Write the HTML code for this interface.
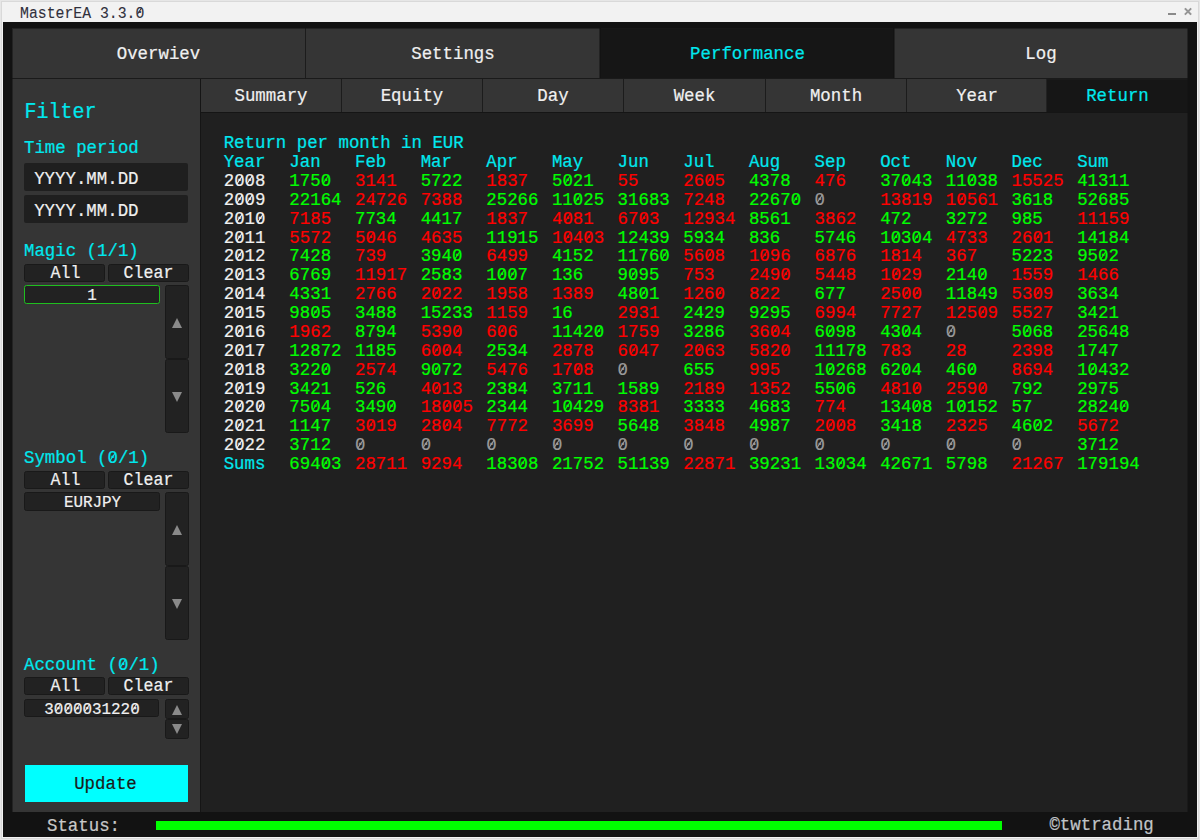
<!DOCTYPE html>
<html><head><meta charset="utf-8">
<style>
*{margin:0;padding:0;box-sizing:border-box}
html,body{width:1200px;height:840px;overflow:hidden;background:#f2f2f2;position:relative;font-family:"Liberation Mono"}
.a{position:absolute}
.t{position:absolute;font-family:"Liberation Mono";font-size:17.4px;line-height:20px;white-space:pre;transform:scaleY(1.09);transform-origin:0 0;-webkit-text-stroke:0.2px currentColor}
.ctr{text-align:center}
.sm{font-size:16.6px}
.xs{font-size:15.9px;transform:scaleY(1.06)}
.c{color:#00e8ee}
.w{color:#f0f0f0}
.g{color:#00ff00}
.r{color:#ff0000}
.z{color:#9a9a9a}
.tb{position:absolute;background:#353535}
.bt{position:absolute;background:#222;border:1px solid #191919;border-radius:2.5px}
.zr{position:relative;display:inline-block}
.zr::after{content:"";position:absolute;left:0.262em;top:0.235em;width:0.072em;height:0.5em;background:currentColor;transform:rotate(36deg)}
.tri{position:absolute;width:0;height:0;border-left:5.5px solid transparent;border-right:5.5px solid transparent}
</style></head><body>
<!-- window border -->
<div class="a" style="left:0;top:0;width:1200px;height:840px;border:1px solid #e6e6e6"></div>
<div class="a" style="left:1px;top:1px;width:1198px;height:838px;border:1px solid #d9d9d9"></div>
<div class="t" style="left:20px;top:4.2px;font-size:14.8px;line-height:18px;color:#30303c;transform:scaleY(1.06);-webkit-text-stroke:0.1px currentColor">MasterEA 3.3.<span class="zr">0</span></div>
<div class="a" style="left:1168px;top:13px;width:8px;height:2px;background:#8a8a8a"></div>
<svg class="a" style="left:1180px;top:3px" width="16" height="16"><path d="M5.5 6L10.5 11M10.5 6L5.5 11" stroke="#959595" stroke-width="1.9" stroke-linecap="square"/></svg>
<!-- frame -->
<div class="a" style="left:3px;top:22px;width:1194px;height:814.5px;background:#121212"></div>
<!-- main tabs -->
<div class="tb" style="left:12px;top:28px;width:293px;height:50px"></div>
<div class="a" style="left:305px;top:28px;width:1px;height:50px;background:#1c1c1c"></div>
<div class="tb" style="left:306px;top:28px;width:293px;height:50px"></div>
<div class="a" style="left:599px;top:28px;width:1px;height:50px;background:#232323"></div>
<div class="a" style="left:600px;top:28px;width:1px;height:50px;background:#131313"></div>
<div class="tb" style="left:601px;top:28px;width:292px;height:50px;background:#161616;border-top:1px solid #1e1e1e"></div>
<div class="a" style="left:893px;top:28px;width:1px;height:50px;background:#131313"></div>
<div class="a" style="left:894px;top:28px;width:1px;height:50px;background:#232323"></div>
<div class="tb" style="left:895px;top:28px;width:293px;height:50px"></div>
<div class="a" style="left:12px;top:78px;width:1176px;height:1px;background:#1a1a1a"></div>
<div class="t w ctr" style="left:12px;top:44.4px;width:293px">Overwiev</div>
<div class="t w ctr" style="left:306px;top:44.4px;width:294px">Settings</div>
<div class="t c ctr" style="left:601px;top:44.4px;width:293px">Performance</div>
<div class="t w ctr" style="left:894px;top:44.4px;width:294px">Log</div>
<!-- left panel -->
<div class="a" style="left:12px;top:79px;width:188px;height:733px;background:#353535"></div>
<div class="a" style="left:200px;top:79px;width:1px;height:733px;background:#151515"></div>
<!-- sub tabs -->
<div class="tb" style="left:201px;top:79px;width:140px;height:33px"></div>
<div class="a" style="left:341px;top:79px;width:1px;height:33px;background:#1c1c1c"></div>
<div class="tb" style="left:342px;top:79px;width:140px;height:33px"></div>
<div class="a" style="left:482px;top:79px;width:1px;height:33px;background:#1c1c1c"></div>
<div class="tb" style="left:483px;top:79px;width:140px;height:33px"></div>
<div class="a" style="left:623px;top:79px;width:1px;height:33px;background:#1c1c1c"></div>
<div class="tb" style="left:624px;top:79px;width:141px;height:33px"></div>
<div class="a" style="left:765px;top:79px;width:1px;height:33px;background:#1c1c1c"></div>
<div class="tb" style="left:766px;top:79px;width:140px;height:33px"></div>
<div class="a" style="left:906px;top:79px;width:1px;height:33px;background:#1c1c1c"></div>
<div class="tb" style="left:907px;top:79px;width:139px;height:33px"></div>
<div class="a" style="left:1046px;top:79px;width:1px;height:33px;background:#222"></div>
<div class="tb" style="left:1047px;top:79px;width:141px;height:33px;background:#161616;border-top:1px solid #1a1a1a"></div>
<div class="a" style="left:201px;top:112px;width:987px;height:1px;background:#151515"></div>
<div class="t w ctr" style="left:201px;top:86.3px;width:140px">Summary</div>
<div class="t w ctr" style="left:342px;top:86.3px;width:140px">Equity</div>
<div class="t w ctr" style="left:483px;top:86.3px;width:140px">Day</div>
<div class="t w ctr" style="left:624px;top:86.3px;width:141px">Week</div>
<div class="t w ctr" style="left:766px;top:86.3px;width:140px">Month</div>
<div class="t w ctr" style="left:907px;top:86.3px;width:140px">Year</div>
<div class="t c ctr" style="left:1047px;top:86.3px;width:141px">Return</div>
<!-- content -->
<div class="a" style="left:201px;top:113px;width:987px;height:699px;background:#202020"></div>

<!-- filter panel -->
<div class="t c" style="left:24.5px;top:102px;font-size:20px;line-height:20px;transform:scaleY(1.08)">Filter</div>
<div class="t c" style="left:24px;top:138px">Time period</div>
<div class="a" style="left:24px;top:163px;width:164px;height:28px;background:#1f1f1f;border-radius:2px"></div>
<div class="a" style="left:24px;top:195px;width:164px;height:28px;background:#1f1f1f;border-radius:2px"></div>
<div class="t w" style="left:34.2px;top:168.6px">YYYY.MM.DD</div>
<div class="t w" style="left:34.2px;top:200.6px">YYYY.MM.DD</div>

<div class="t c" style="left:24px;top:241px">Magic (1/1)</div>
<div class="bt" style="left:24px;top:264px;width:81px;height:18px"></div>
<div class="bt" style="left:108px;top:264px;width:81px;height:18px"></div>
<div class="bt" style="left:24px;top:285px;width:136px;height:19px;border:1px solid #1fbf1f"></div>
<div class="bt" style="left:165px;top:285px;width:24px;height:74px"></div>
<div class="bt" style="left:165px;top:359px;width:24px;height:74px"></div>
<div class="tri" style="left:171.5px;top:318px;border-bottom:10.5px solid #8a8a8a"></div>
<div class="tri" style="left:171.5px;top:391.5px;border-top:10.5px solid #8a8a8a"></div>
<div class="t w ctr sm" style="left:25px;top:263px;width:81px">All</div>
<div class="t w ctr sm" style="left:108px;top:263px;width:81px">Clear</div>
<div class="t w ctr xs" style="left:24px;top:284.5px;width:136px">1</div>

<div class="t c" style="left:24px;top:448px">Symbol (<span class="zr">0</span>/1)</div>
<div class="bt" style="left:24px;top:471px;width:81px;height:18px"></div>
<div class="bt" style="left:108px;top:471px;width:81px;height:18px"></div>
<div class="bt" style="left:24px;top:492px;width:136px;height:19px"></div>
<div class="bt" style="left:165px;top:492px;width:24px;height:74px"></div>
<div class="bt" style="left:165px;top:566px;width:24px;height:74px"></div>
<div class="tri" style="left:171.5px;top:525px;border-bottom:10.5px solid #8a8a8a"></div>
<div class="tri" style="left:171.5px;top:598.5px;border-top:10.5px solid #8a8a8a"></div>
<div class="t w ctr sm" style="left:25px;top:470px;width:81px">All</div>
<div class="t w ctr sm" style="left:108px;top:470px;width:81px">Clear</div>
<div class="t w ctr xs" style="left:24.5px;top:491.5px;width:136px">EURJPY</div>

<div class="t c" style="left:24px;top:654.5px">Account (<span class="zr">0</span>/1)</div>
<div class="bt" style="left:24px;top:677px;width:81px;height:18px"></div>
<div class="bt" style="left:108px;top:677px;width:81px;height:18px"></div>
<div class="bt" style="left:24px;top:699px;width:135px;height:18px"></div>
<div class="bt" style="left:165px;top:699px;width:24px;height:20px"></div>
<div class="bt" style="left:165px;top:719px;width:24px;height:20px"></div>
<div class="tri" style="left:171.5px;top:704.5px;border-bottom:10.5px solid #8a8a8a"></div>
<div class="tri" style="left:171.5px;top:724px;border-top:10.5px solid #8a8a8a"></div>
<div class="t w ctr sm" style="left:25px;top:676px;width:81px">All</div>
<div class="t w ctr sm" style="left:108px;top:676px;width:81px">Clear</div>
<div class="t w ctr xs" style="left:24.5px;top:698.5px;width:135px">3<span class="zr">0</span><span class="zr">0</span><span class="zr">0</span><span class="zr">0</span>3122<span class="zr">0</span></div>

<div class="a" style="left:25px;top:765px;width:162.5px;height:36.7px;background:#00ffff"></div>
<div class="t ctr" style="left:24px;top:774px;width:163px;color:#1a1a1a">Update</div>

<!-- status bar -->
<div class="t" style="left:47px;top:816px;color:#c8c8c8">Status:</div>
<div class="a" style="left:156px;top:820.5px;width:845.6px;height:9.1px;background:#00ff00"></div>
<div class="t" style="left:1049.4px;top:815px;color:#c0c4c8">&#169;twtrading</div>

<div class="t c" style="left:223.70px;top:133.40px">Return per month in EUR</div>
<div class="t c" style="left:223.70px;top:152.10px">Year</div>
<div class="t c" style="left:289.35px;top:152.10px">Jan</div>
<div class="t c" style="left:355.00px;top:152.10px">Feb</div>
<div class="t c" style="left:420.65px;top:152.10px">Mar</div>
<div class="t c" style="left:486.30px;top:152.10px">Apr</div>
<div class="t c" style="left:551.95px;top:152.10px">May</div>
<div class="t c" style="left:617.60px;top:152.10px">Jun</div>
<div class="t c" style="left:683.25px;top:152.10px">Jul</div>
<div class="t c" style="left:748.90px;top:152.10px">Aug</div>
<div class="t c" style="left:814.55px;top:152.10px">Sep</div>
<div class="t c" style="left:880.20px;top:152.10px">Oct</div>
<div class="t c" style="left:945.85px;top:152.10px">Nov</div>
<div class="t c" style="left:1011.50px;top:152.10px">Dec</div>
<div class="t c" style="left:1077.15px;top:152.10px">Sum</div>
<div class="t w" style="left:223.70px;top:170.97px">2<span class="zr">0</span><span class="zr">0</span>8</div>
<div class="t g" style="left:289.35px;top:170.97px">175<span class="zr">0</span></div>
<div class="t r" style="left:355.00px;top:170.97px">3141</div>
<div class="t g" style="left:420.65px;top:170.97px">5722</div>
<div class="t r" style="left:486.30px;top:170.97px">1837</div>
<div class="t g" style="left:551.95px;top:170.97px">5<span class="zr">0</span>21</div>
<div class="t r" style="left:617.60px;top:170.97px">55</div>
<div class="t r" style="left:683.25px;top:170.97px">26<span class="zr">0</span>5</div>
<div class="t g" style="left:748.90px;top:170.97px">4378</div>
<div class="t r" style="left:814.55px;top:170.97px">476</div>
<div class="t g" style="left:880.20px;top:170.97px">37<span class="zr">0</span>43</div>
<div class="t g" style="left:945.85px;top:170.97px">11<span class="zr">0</span>38</div>
<div class="t r" style="left:1011.50px;top:170.97px">15525</div>
<div class="t g" style="left:1077.15px;top:170.97px">41311</div>
<div class="t w" style="left:223.70px;top:189.83px">2<span class="zr">0</span><span class="zr">0</span>9</div>
<div class="t g" style="left:289.35px;top:189.83px">22164</div>
<div class="t r" style="left:355.00px;top:189.83px">24726</div>
<div class="t r" style="left:420.65px;top:189.83px">7388</div>
<div class="t g" style="left:486.30px;top:189.83px">25266</div>
<div class="t g" style="left:551.95px;top:189.83px">11<span class="zr">0</span>25</div>
<div class="t g" style="left:617.60px;top:189.83px">31683</div>
<div class="t r" style="left:683.25px;top:189.83px">7248</div>
<div class="t g" style="left:748.90px;top:189.83px">2267<span class="zr">0</span></div>
<div class="t z" style="left:814.55px;top:189.83px"><span class="zr">0</span></div>
<div class="t r" style="left:880.20px;top:189.83px">13819</div>
<div class="t r" style="left:945.85px;top:189.83px">1<span class="zr">0</span>561</div>
<div class="t g" style="left:1011.50px;top:189.83px">3618</div>
<div class="t g" style="left:1077.15px;top:189.83px">52685</div>
<div class="t w" style="left:223.70px;top:208.70px">2<span class="zr">0</span>1<span class="zr">0</span></div>
<div class="t r" style="left:289.35px;top:208.70px">7185</div>
<div class="t g" style="left:355.00px;top:208.70px">7734</div>
<div class="t g" style="left:420.65px;top:208.70px">4417</div>
<div class="t r" style="left:486.30px;top:208.70px">1837</div>
<div class="t r" style="left:551.95px;top:208.70px">4<span class="zr">0</span>81</div>
<div class="t r" style="left:617.60px;top:208.70px">67<span class="zr">0</span>3</div>
<div class="t r" style="left:683.25px;top:208.70px">12934</div>
<div class="t g" style="left:748.90px;top:208.70px">8561</div>
<div class="t r" style="left:814.55px;top:208.70px">3862</div>
<div class="t g" style="left:880.20px;top:208.70px">472</div>
<div class="t g" style="left:945.85px;top:208.70px">3272</div>
<div class="t g" style="left:1011.50px;top:208.70px">985</div>
<div class="t r" style="left:1077.15px;top:208.70px">11159</div>
<div class="t w" style="left:223.70px;top:227.57px">2<span class="zr">0</span>11</div>
<div class="t r" style="left:289.35px;top:227.57px">5572</div>
<div class="t r" style="left:355.00px;top:227.57px">5<span class="zr">0</span>46</div>
<div class="t r" style="left:420.65px;top:227.57px">4635</div>
<div class="t g" style="left:486.30px;top:227.57px">11915</div>
<div class="t r" style="left:551.95px;top:227.57px">1<span class="zr">0</span>4<span class="zr">0</span>3</div>
<div class="t g" style="left:617.60px;top:227.57px">12439</div>
<div class="t g" style="left:683.25px;top:227.57px">5934</div>
<div class="t g" style="left:748.90px;top:227.57px">836</div>
<div class="t g" style="left:814.55px;top:227.57px">5746</div>
<div class="t g" style="left:880.20px;top:227.57px">1<span class="zr">0</span>3<span class="zr">0</span>4</div>
<div class="t r" style="left:945.85px;top:227.57px">4733</div>
<div class="t r" style="left:1011.50px;top:227.57px">26<span class="zr">0</span>1</div>
<div class="t g" style="left:1077.15px;top:227.57px">14184</div>
<div class="t w" style="left:223.70px;top:246.44px">2<span class="zr">0</span>12</div>
<div class="t g" style="left:289.35px;top:246.44px">7428</div>
<div class="t r" style="left:355.00px;top:246.44px">739</div>
<div class="t g" style="left:420.65px;top:246.44px">394<span class="zr">0</span></div>
<div class="t r" style="left:486.30px;top:246.44px">6499</div>
<div class="t g" style="left:551.95px;top:246.44px">4152</div>
<div class="t g" style="left:617.60px;top:246.44px">1176<span class="zr">0</span></div>
<div class="t r" style="left:683.25px;top:246.44px">56<span class="zr">0</span>8</div>
<div class="t r" style="left:748.90px;top:246.44px">1<span class="zr">0</span>96</div>
<div class="t r" style="left:814.55px;top:246.44px">6876</div>
<div class="t r" style="left:880.20px;top:246.44px">1814</div>
<div class="t r" style="left:945.85px;top:246.44px">367</div>
<div class="t g" style="left:1011.50px;top:246.44px">5223</div>
<div class="t g" style="left:1077.15px;top:246.44px">95<span class="zr">0</span>2</div>
<div class="t w" style="left:223.70px;top:265.30px">2<span class="zr">0</span>13</div>
<div class="t g" style="left:289.35px;top:265.30px">6769</div>
<div class="t r" style="left:355.00px;top:265.30px">11917</div>
<div class="t g" style="left:420.65px;top:265.30px">2583</div>
<div class="t g" style="left:486.30px;top:265.30px">1<span class="zr">0</span><span class="zr">0</span>7</div>
<div class="t g" style="left:551.95px;top:265.30px">136</div>
<div class="t g" style="left:617.60px;top:265.30px">9<span class="zr">0</span>95</div>
<div class="t r" style="left:683.25px;top:265.30px">753</div>
<div class="t r" style="left:748.90px;top:265.30px">249<span class="zr">0</span></div>
<div class="t r" style="left:814.55px;top:265.30px">5448</div>
<div class="t r" style="left:880.20px;top:265.30px">1<span class="zr">0</span>29</div>
<div class="t g" style="left:945.85px;top:265.30px">214<span class="zr">0</span></div>
<div class="t r" style="left:1011.50px;top:265.30px">1559</div>
<div class="t r" style="left:1077.15px;top:265.30px">1466</div>
<div class="t w" style="left:223.70px;top:284.17px">2<span class="zr">0</span>14</div>
<div class="t g" style="left:289.35px;top:284.17px">4331</div>
<div class="t r" style="left:355.00px;top:284.17px">2766</div>
<div class="t r" style="left:420.65px;top:284.17px">2<span class="zr">0</span>22</div>
<div class="t r" style="left:486.30px;top:284.17px">1958</div>
<div class="t r" style="left:551.95px;top:284.17px">1389</div>
<div class="t g" style="left:617.60px;top:284.17px">48<span class="zr">0</span>1</div>
<div class="t r" style="left:683.25px;top:284.17px">126<span class="zr">0</span></div>
<div class="t r" style="left:748.90px;top:284.17px">822</div>
<div class="t g" style="left:814.55px;top:284.17px">677</div>
<div class="t r" style="left:880.20px;top:284.17px">25<span class="zr">0</span><span class="zr">0</span></div>
<div class="t g" style="left:945.85px;top:284.17px">11849</div>
<div class="t r" style="left:1011.50px;top:284.17px">53<span class="zr">0</span>9</div>
<div class="t g" style="left:1077.15px;top:284.17px">3634</div>
<div class="t w" style="left:223.70px;top:303.04px">2<span class="zr">0</span>15</div>
<div class="t g" style="left:289.35px;top:303.04px">98<span class="zr">0</span>5</div>
<div class="t g" style="left:355.00px;top:303.04px">3488</div>
<div class="t g" style="left:420.65px;top:303.04px">15233</div>
<div class="t r" style="left:486.30px;top:303.04px">1159</div>
<div class="t g" style="left:551.95px;top:303.04px">16</div>
<div class="t r" style="left:617.60px;top:303.04px">2931</div>
<div class="t g" style="left:683.25px;top:303.04px">2429</div>
<div class="t g" style="left:748.90px;top:303.04px">9295</div>
<div class="t r" style="left:814.55px;top:303.04px">6994</div>
<div class="t r" style="left:880.20px;top:303.04px">7727</div>
<div class="t r" style="left:945.85px;top:303.04px">125<span class="zr">0</span>9</div>
<div class="t r" style="left:1011.50px;top:303.04px">5527</div>
<div class="t g" style="left:1077.15px;top:303.04px">3421</div>
<div class="t w" style="left:223.70px;top:321.90px">2<span class="zr">0</span>16</div>
<div class="t r" style="left:289.35px;top:321.90px">1962</div>
<div class="t g" style="left:355.00px;top:321.90px">8794</div>
<div class="t r" style="left:420.65px;top:321.90px">539<span class="zr">0</span></div>
<div class="t r" style="left:486.30px;top:321.90px">6<span class="zr">0</span>6</div>
<div class="t g" style="left:551.95px;top:321.90px">1142<span class="zr">0</span></div>
<div class="t r" style="left:617.60px;top:321.90px">1759</div>
<div class="t g" style="left:683.25px;top:321.90px">3286</div>
<div class="t r" style="left:748.90px;top:321.90px">36<span class="zr">0</span>4</div>
<div class="t g" style="left:814.55px;top:321.90px">6<span class="zr">0</span>98</div>
<div class="t g" style="left:880.20px;top:321.90px">43<span class="zr">0</span>4</div>
<div class="t z" style="left:945.85px;top:321.90px"><span class="zr">0</span></div>
<div class="t g" style="left:1011.50px;top:321.90px">5<span class="zr">0</span>68</div>
<div class="t g" style="left:1077.15px;top:321.90px">25648</div>
<div class="t w" style="left:223.70px;top:340.77px">2<span class="zr">0</span>17</div>
<div class="t g" style="left:289.35px;top:340.77px">12872</div>
<div class="t g" style="left:355.00px;top:340.77px">1185</div>
<div class="t r" style="left:420.65px;top:340.77px">6<span class="zr">0</span><span class="zr">0</span>4</div>
<div class="t g" style="left:486.30px;top:340.77px">2534</div>
<div class="t r" style="left:551.95px;top:340.77px">2878</div>
<div class="t r" style="left:617.60px;top:340.77px">6<span class="zr">0</span>47</div>
<div class="t r" style="left:683.25px;top:340.77px">2<span class="zr">0</span>63</div>
<div class="t r" style="left:748.90px;top:340.77px">582<span class="zr">0</span></div>
<div class="t g" style="left:814.55px;top:340.77px">11178</div>
<div class="t r" style="left:880.20px;top:340.77px">783</div>
<div class="t r" style="left:945.85px;top:340.77px">28</div>
<div class="t r" style="left:1011.50px;top:340.77px">2398</div>
<div class="t g" style="left:1077.15px;top:340.77px">1747</div>
<div class="t w" style="left:223.70px;top:359.64px">2<span class="zr">0</span>18</div>
<div class="t g" style="left:289.35px;top:359.64px">322<span class="zr">0</span></div>
<div class="t r" style="left:355.00px;top:359.64px">2574</div>
<div class="t g" style="left:420.65px;top:359.64px">9<span class="zr">0</span>72</div>
<div class="t r" style="left:486.30px;top:359.64px">5476</div>
<div class="t r" style="left:551.95px;top:359.64px">17<span class="zr">0</span>8</div>
<div class="t z" style="left:617.60px;top:359.64px"><span class="zr">0</span></div>
<div class="t g" style="left:683.25px;top:359.64px">655</div>
<div class="t r" style="left:748.90px;top:359.64px">995</div>
<div class="t g" style="left:814.55px;top:359.64px">1<span class="zr">0</span>268</div>
<div class="t g" style="left:880.20px;top:359.64px">62<span class="zr">0</span>4</div>
<div class="t g" style="left:945.85px;top:359.64px">46<span class="zr">0</span></div>
<div class="t r" style="left:1011.50px;top:359.64px">8694</div>
<div class="t g" style="left:1077.15px;top:359.64px">1<span class="zr">0</span>432</div>
<div class="t w" style="left:223.70px;top:378.50px">2<span class="zr">0</span>19</div>
<div class="t g" style="left:289.35px;top:378.50px">3421</div>
<div class="t g" style="left:355.00px;top:378.50px">526</div>
<div class="t r" style="left:420.65px;top:378.50px">4<span class="zr">0</span>13</div>
<div class="t g" style="left:486.30px;top:378.50px">2384</div>
<div class="t g" style="left:551.95px;top:378.50px">3711</div>
<div class="t g" style="left:617.60px;top:378.50px">1589</div>
<div class="t r" style="left:683.25px;top:378.50px">2189</div>
<div class="t r" style="left:748.90px;top:378.50px">1352</div>
<div class="t g" style="left:814.55px;top:378.50px">55<span class="zr">0</span>6</div>
<div class="t r" style="left:880.20px;top:378.50px">481<span class="zr">0</span></div>
<div class="t r" style="left:945.85px;top:378.50px">259<span class="zr">0</span></div>
<div class="t g" style="left:1011.50px;top:378.50px">792</div>
<div class="t g" style="left:1077.15px;top:378.50px">2975</div>
<div class="t w" style="left:223.70px;top:397.37px">2<span class="zr">0</span>2<span class="zr">0</span></div>
<div class="t g" style="left:289.35px;top:397.37px">75<span class="zr">0</span>4</div>
<div class="t g" style="left:355.00px;top:397.37px">349<span class="zr">0</span></div>
<div class="t r" style="left:420.65px;top:397.37px">18<span class="zr">0</span><span class="zr">0</span>5</div>
<div class="t g" style="left:486.30px;top:397.37px">2344</div>
<div class="t g" style="left:551.95px;top:397.37px">1<span class="zr">0</span>429</div>
<div class="t r" style="left:617.60px;top:397.37px">8381</div>
<div class="t g" style="left:683.25px;top:397.37px">3333</div>
<div class="t g" style="left:748.90px;top:397.37px">4683</div>
<div class="t r" style="left:814.55px;top:397.37px">774</div>
<div class="t g" style="left:880.20px;top:397.37px">134<span class="zr">0</span>8</div>
<div class="t g" style="left:945.85px;top:397.37px">1<span class="zr">0</span>152</div>
<div class="t g" style="left:1011.50px;top:397.37px">57</div>
<div class="t g" style="left:1077.15px;top:397.37px">2824<span class="zr">0</span></div>
<div class="t w" style="left:223.70px;top:416.24px">2<span class="zr">0</span>21</div>
<div class="t g" style="left:289.35px;top:416.24px">1147</div>
<div class="t r" style="left:355.00px;top:416.24px">3<span class="zr">0</span>19</div>
<div class="t r" style="left:420.65px;top:416.24px">28<span class="zr">0</span>4</div>
<div class="t r" style="left:486.30px;top:416.24px">7772</div>
<div class="t r" style="left:551.95px;top:416.24px">3699</div>
<div class="t g" style="left:617.60px;top:416.24px">5648</div>
<div class="t r" style="left:683.25px;top:416.24px">3848</div>
<div class="t g" style="left:748.90px;top:416.24px">4987</div>
<div class="t r" style="left:814.55px;top:416.24px">2<span class="zr">0</span><span class="zr">0</span>8</div>
<div class="t g" style="left:880.20px;top:416.24px">3418</div>
<div class="t r" style="left:945.85px;top:416.24px">2325</div>
<div class="t g" style="left:1011.50px;top:416.24px">46<span class="zr">0</span>2</div>
<div class="t r" style="left:1077.15px;top:416.24px">5672</div>
<div class="t w" style="left:223.70px;top:435.11px">2<span class="zr">0</span>22</div>
<div class="t g" style="left:289.35px;top:435.11px">3712</div>
<div class="t z" style="left:355.00px;top:435.11px"><span class="zr">0</span></div>
<div class="t z" style="left:420.65px;top:435.11px"><span class="zr">0</span></div>
<div class="t z" style="left:486.30px;top:435.11px"><span class="zr">0</span></div>
<div class="t z" style="left:551.95px;top:435.11px"><span class="zr">0</span></div>
<div class="t z" style="left:617.60px;top:435.11px"><span class="zr">0</span></div>
<div class="t z" style="left:683.25px;top:435.11px"><span class="zr">0</span></div>
<div class="t z" style="left:748.90px;top:435.11px"><span class="zr">0</span></div>
<div class="t z" style="left:814.55px;top:435.11px"><span class="zr">0</span></div>
<div class="t z" style="left:880.20px;top:435.11px"><span class="zr">0</span></div>
<div class="t z" style="left:945.85px;top:435.11px"><span class="zr">0</span></div>
<div class="t z" style="left:1011.50px;top:435.11px"><span class="zr">0</span></div>
<div class="t g" style="left:1077.15px;top:435.11px">3712</div>
<div class="t c" style="left:223.70px;top:453.97px">Sums</div>
<div class="t g" style="left:289.35px;top:453.97px">694<span class="zr">0</span>3</div>
<div class="t r" style="left:355.00px;top:453.97px">28711</div>
<div class="t r" style="left:420.65px;top:453.97px">9294</div>
<div class="t g" style="left:486.30px;top:453.97px">183<span class="zr">0</span>8</div>
<div class="t g" style="left:551.95px;top:453.97px">21752</div>
<div class="t g" style="left:617.60px;top:453.97px">51139</div>
<div class="t r" style="left:683.25px;top:453.97px">22871</div>
<div class="t g" style="left:748.90px;top:453.97px">39231</div>
<div class="t g" style="left:814.55px;top:453.97px">13<span class="zr">0</span>34</div>
<div class="t g" style="left:880.20px;top:453.97px">42671</div>
<div class="t g" style="left:945.85px;top:453.97px">5798</div>
<div class="t r" style="left:1011.50px;top:453.97px">21267</div>
<div class="t g" style="left:1077.15px;top:453.97px">179194</div>
<div class="a" style="left:12px;top:28px;width:1176px;height:784px;box-shadow:inset 1px 1px 0 rgba(18,18,18,.5),inset -1px 0 0 rgba(18,18,18,.5)"></div>
</body></html>
